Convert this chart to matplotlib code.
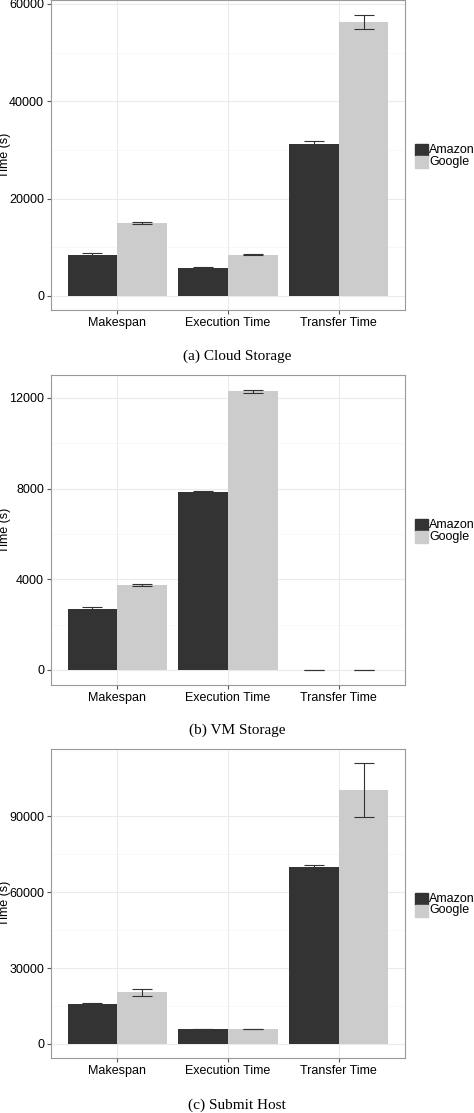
import matplotlib
matplotlib.use("Agg")
import matplotlib.pyplot as plt
import numpy as np
from matplotlib.patches import Rectangle

categories = ["Makespan", "Execution Time", "Transfer Time"]
series = ["Amazon", "Google"]
titles = ["(a) Cloud Storage", "(b) VM Storage", "(c) Submit Host"]

a_amazon = [8500, 5800, 31200]; a_amazon_err = [300, 60, 600]
a_google = [15000, 8500, 56300]; a_google_err = [300, 100, 1500]
b_amazon = [2700, 7850, 10]; b_amazon_err = [60, 50, 5]
b_google = [3750, 12300, 10]; b_google_err = [30, 70, 5]
c_amazon = [15800, 5900, 69700]; c_amazon_err = [300, 100, 900]
c_google = [20400, 5900, 100300]; c_google_err = [1500, 100, 10500]

yticks = [[0, 20000, 40000, 60000], [0, 4000, 8000, 12000], [0, 30000, 60000, 90000]]
ylims = [(-2877, 60820), (-662, 13013), (-5527, 116460)]
panels = [(a_amazon, a_amazon_err, a_google, a_google_err),
          (b_amazon, b_amazon_err, b_google, b_google_err),
          (c_amazon, c_amazon_err, c_google, c_google_err)]
# pixel boxes: top, bottom
boxes = [(0, 310), (375, 685), (749, 1058)]
caption_y = [356, 730, 1105]

W, H = 474, 1113
fig = plt.figure(figsize=(W/100, H/100), dpi=100)
plt.rcParams['font.family'] = ['Liberation Sans', 'DejaVu Sans']
colors = ["#333333", "#cccccc"]
x = np.arange(3)
w = 0.45
for i, (am, ame, go, goe) in enumerate(panels):
    t, b = boxes[i]
    ax = fig.add_axes([51/W, 1 - b/H, (405-51)/W, (b-t)/H])
    ax.set_xlim(-0.6, 2.6)
    ax.set_ylim(*ylims[i])
    yt = yticks[i]
    for v in yt:
        ax.axhline(v, color="#ebebeb", lw=0.8, zorder=0)
    for k in range(len(yt)-1):
        ax.axhline((yt[k]+yt[k+1])/2, color="#f5f5f5", lw=0.5, zorder=0)
    for xv in x:
        ax.axvline(xv, color="#ebebeb", lw=0.8, zorder=0)
    ax.bar(x - w/2, am, w, color=colors[0], zorder=2)
    ax.bar(x + w/2, go, w, color=colors[1], zorder=2)
    ax.errorbar(x - w/2, am, yerr=ame, fmt='none', ecolor="#333333", elinewidth=0.8, capsize=7, capthick=0.8, zorder=3)
    ax.errorbar(x + w/2, go, yerr=goe, fmt='none', ecolor="#333333", elinewidth=0.8, capsize=7, capthick=0.8, zorder=3)
    ax.set_xticks(x)
    ax.set_xticklabels(categories, fontsize=9)
    ax.set_yticks(yt)
    ax.set_yticklabels([str(v) for v in yt], fontsize=9)
    ax.tick_params(length=3, color="#555555", pad=2)
    for s in ax.spines.values():
        s.set_color("#999999")
    ax.set_ylabel("Time (s)", fontsize=9)
    ax.yaxis.set_label_coords(-40/(405-51), 0.5)
    # legend
    cy = (t + b) / 2
    for j, name in enumerate(series):
        y0 = cy - 11 + j*12
        fig.patches.append(Rectangle((415/W, 1 - (y0+12)/H), 13/W, 12/H, color=colors[j], transform=fig.transFigure))
        fig.text(429/W, 1 - (y0+6)/H, name, fontsize=9, va='center', ha='left')
    fig.text(237/W, 1 - caption_y[i]/H, titles[i], fontsize=11, ha='center', va='center', family=['Liberation Serif'])
fig.savefig("out.png", dpi=100)
